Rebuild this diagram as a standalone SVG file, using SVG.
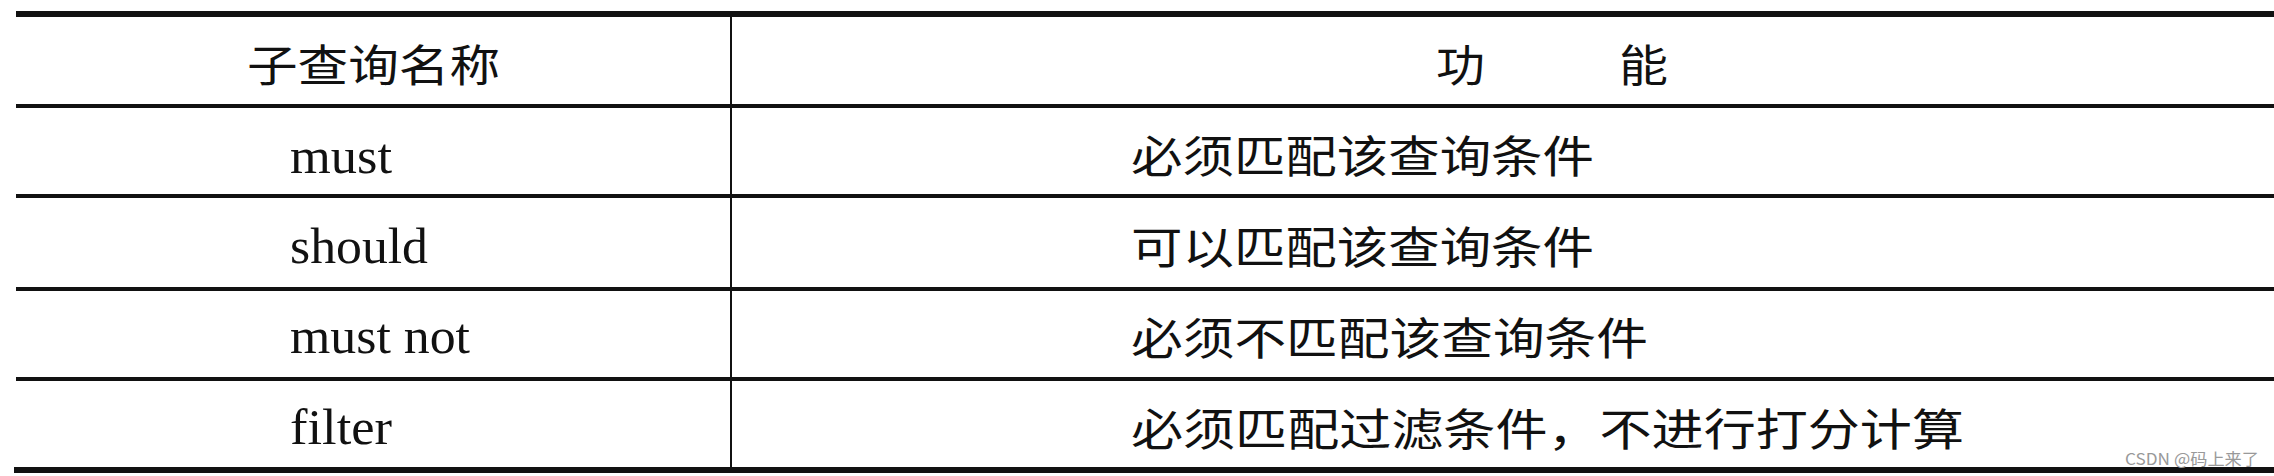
<svg xmlns="http://www.w3.org/2000/svg" width="2274" height="476" viewBox="0 0 2274 476">
<style>
.cn{font-family:"Noto Sans CJK SC",sans-serif;font-size:44px;fill:#111}
.en{font-family:"Liberation Serif",serif;font-size:50px;fill:#111}
.thick{stroke:#111;stroke-width:6}
.mid{stroke:#111;stroke-width:4}
.thin{stroke:#111;stroke-width:2}
</style>
<rect width="2274" height="476" fill="#fff"/>
<g id="connectors">
<line class="thick" x1="16" y1="14" x2="2274" y2="14"/>
<line class="mid" x1="16" y1="106" x2="2274" y2="106"/>
<line class="mid" x1="16" y1="196" x2="2274" y2="196"/>
<line class="mid" x1="16" y1="289" x2="2274" y2="289"/>
<line class="mid" x1="16" y1="379" x2="2274" y2="379"/>
<line class="thick" x1="14" y1="470" x2="2274" y2="470"/>
<line class="thin" x1="731" y1="16" x2="731" y2="468"/>
</g>
<g id="header">
<text class="cn" x="247" y="82" textLength="253" lengthAdjust="spacingAndGlyphs">子查询名称</text>
<text class="cn" x="1436" y="82" textLength="49" lengthAdjust="spacingAndGlyphs">功</text>
<text class="cn" x="1619" y="82" textLength="49" lengthAdjust="spacingAndGlyphs">能</text>
</g>
<g id="row-must">
<text class="en" x="290" y="173" textLength="102" lengthAdjust="spacingAndGlyphs">must</text>
<text class="cn" x="1131" y="173" textLength="463" lengthAdjust="spacingAndGlyphs">必须匹配该查询条件</text>
</g>
<g id="row-should">
<text class="en" x="290" y="263" textLength="138" lengthAdjust="spacingAndGlyphs">should</text>
<text class="cn" x="1131" y="264" textLength="463" lengthAdjust="spacingAndGlyphs">可以匹配该查询条件</text>
</g>
<g id="row-mustnot">
<text class="en" x="290" y="353" textLength="180" lengthAdjust="spacingAndGlyphs">must not</text>
<text class="cn" x="1131" y="355" textLength="517" lengthAdjust="spacingAndGlyphs">必须不匹配该查询条件</text>
</g>
<g id="row-filter">
<text class="en" x="290" y="444" textLength="102" lengthAdjust="spacingAndGlyphs">filter</text>
<text class="cn" x="1131" y="446" textLength="833" lengthAdjust="spacingAndGlyphs">必须匹配过滤条件，不进行打分计算</text>
</g>
<text x="2125" y="465" textLength="134" lengthAdjust="spacingAndGlyphs" style="font-family:'Noto Sans CJK SC',sans-serif;font-size:16px;fill:#999">CSDN @码上来了</text>
</svg>
